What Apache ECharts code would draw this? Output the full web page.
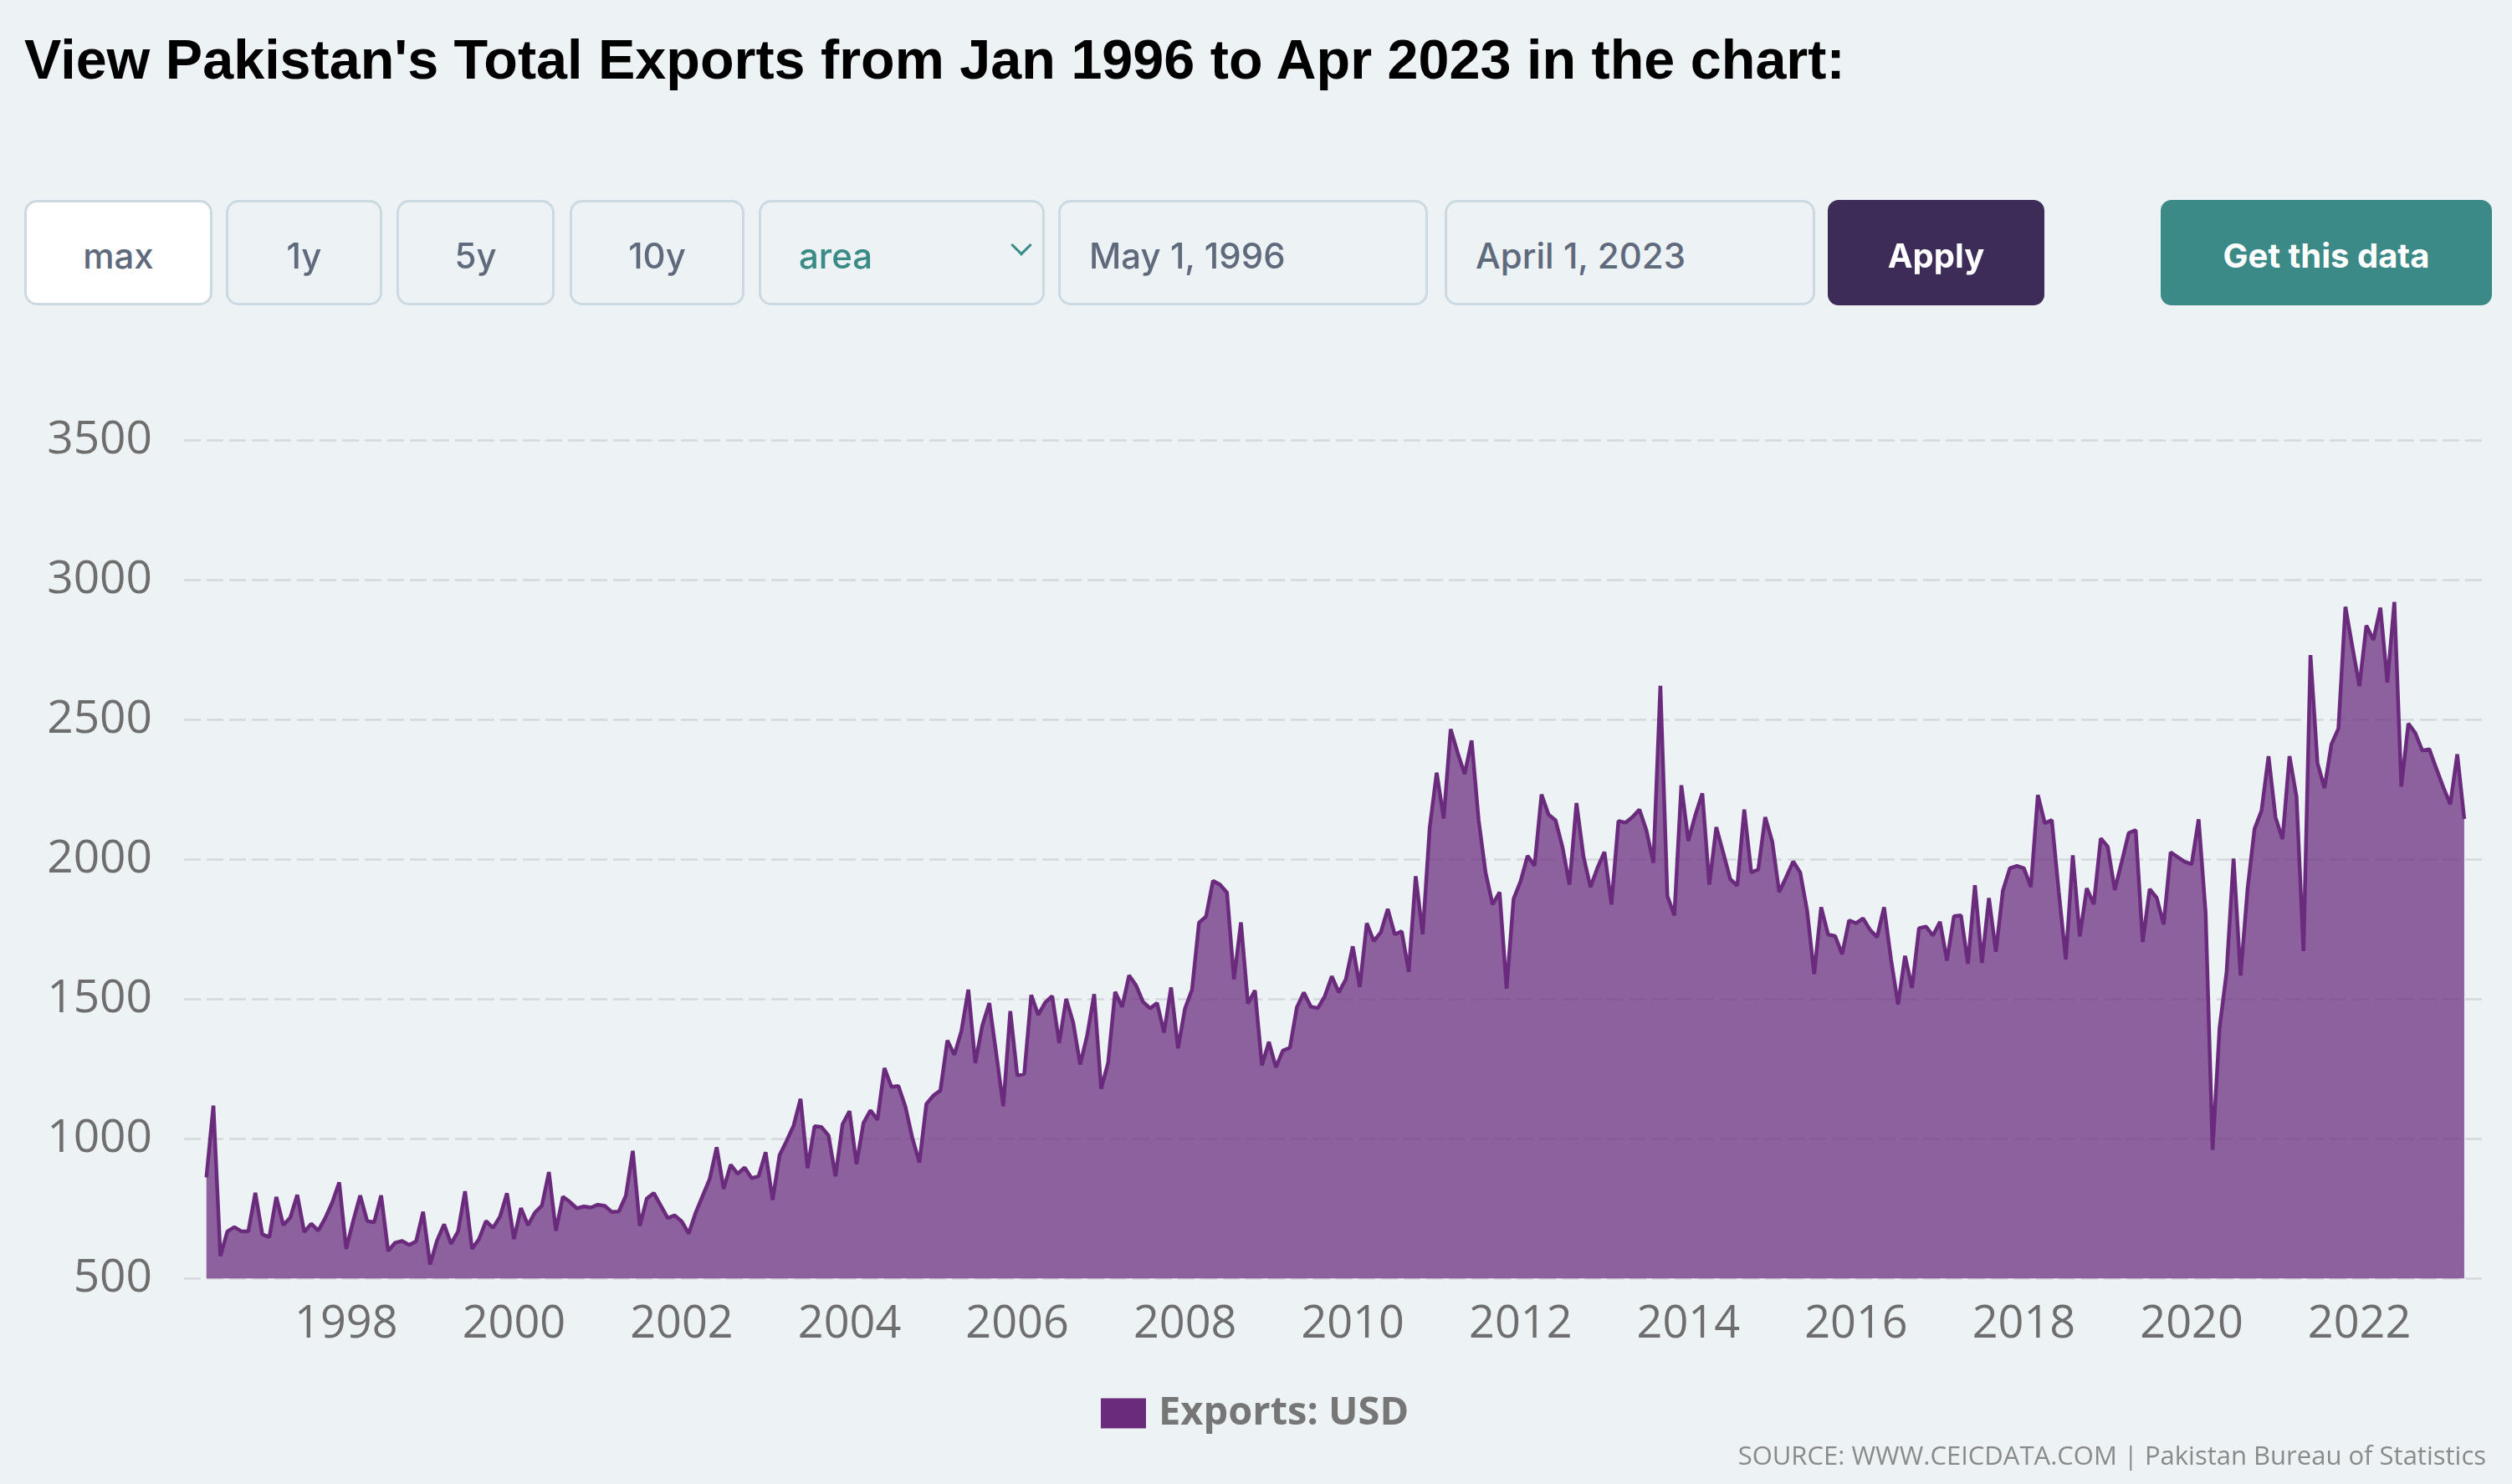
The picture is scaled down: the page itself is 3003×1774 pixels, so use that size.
<!DOCTYPE html>
<html>
<head>
<meta charset="utf-8">
<script src="https://cdn.jsdelivr.net/npm/echarts@6/dist/echarts.min.js"></script>
<style>
html,body{margin:0;padding:0;background:#edf2f5;width:3003px;height:1774px;overflow:hidden;}
#chart{position:absolute;left:0;top:0;width:3003px;height:1774px;}
#title{position:absolute;left:29px;top:38px;font:bold 66.5px/66px "Liberation Sans",Arial,sans-serif;color:#000;white-space:nowrap;}
.ctl{position:absolute;top:239px;height:126px;box-sizing:border-box;border:3px solid #cbd9e1;border-radius:15px;background:#edf2f5;font:500 42px/128px Inter,"Liberation Sans",sans-serif;color:#5f6a7d;text-align:center;white-space:nowrap;overflow:hidden;}
.left{text-align:left;}
.solid{border:none;color:#fff;font-weight:700;font-size:40px;line-height:134px;border-radius:13px;}
#chev{position:absolute;left:1212px;top:284px;width:15px;height:15px;border-right:3px solid #3a8a86;border-bottom:3px solid #3a8a86;transform:rotate(45deg);}
</style>
</head>
<body>
<div id="chart"></div>
<div id="title">View Pakistan's Total Exports from Jan 1996 to Apr 2023 in the chart:</div>
<div class="ctl" style="left:29px;width:225px;background:#fff;">max</div>
<div class="ctl" style="left:270px;width:187px;">1y</div>
<div class="ctl" style="left:474px;width:189px;">5y</div>
<div class="ctl" style="left:681px;width:209px;">10y</div>
<div class="ctl left" style="left:907px;width:342px;padding-left:45px;color:#3a8a86;">area</div>
<div id="chev"></div>
<div class="ctl left" style="left:1265px;width:442px;padding-left:34px;">May 1, 1996</div>
<div class="ctl left" style="left:1727px;width:443px;padding-left:34px;">April 1, 2023</div>
<div class="ctl solid" style="left:2185px;width:259px;background:#3d2c57;">Apply</div>
<div class="ctl solid" style="left:2583px;width:396px;background:#3b8a88;">Get this data</div>
<script>
// Monthly exports (USD mn), first value = May 1996, last value = Apr 2023
const axisStartYear = 1996;          // x axis counts months from Jan 1996
const firstMonthOffset = 4;          // May 1996 = 4 months after Jan 1996
const exportsUSD = [
  862, 1119, 580, 668, 684, 669, 669, 807,                               // 1996 May-Dec
  658, 648, 792, 691, 718, 799, 666, 696, 671, 716, 772, 844,            // 1997
  606, 706, 797, 706, 701, 797, 598, 628, 634, 620, 633, 739,            // 1998
  550, 636, 694, 624, 668, 812, 606, 641, 706, 681, 721, 805,            // 1999
  641, 752, 691, 736, 761, 881, 671, 793, 774, 751, 758, 754,            // 2000
  764, 760, 738, 740, 796, 957, 688, 786, 806, 761, 716, 726,            // 2001
  704, 661, 736, 796, 856, 970, 821, 907, 875, 897, 859, 866,            // 2002
  952, 781, 942, 992, 1047, 1143, 895, 1045, 1042, 1012, 866, 1052,      // 2003
  1099, 909, 1057, 1102, 1068, 1253, 1186, 1189, 1115, 1002, 915, 1125,  // 2004
  1155, 1173, 1352, 1301, 1385, 1534, 1271, 1406, 1486, 1304, 1117, 1457,// 2005
  1227, 1232, 1515, 1444, 1488, 1511, 1343, 1501, 1416, 1266, 1370, 1518,// 2006
  1179, 1273, 1526, 1472, 1585, 1549, 1490, 1467, 1486, 1380, 1542, 1324,// 2007
  1467, 1534, 1774, 1796, 1924, 1910, 1882, 1571, 1775, 1484, 1531, 1263,// 2008
  1347, 1256, 1316, 1326, 1471, 1524, 1473, 1468, 1511, 1582, 1524, 1571,// 2009
  1689, 1544, 1772, 1708, 1739, 1823, 1732, 1743, 1598, 1940, 1732, 2114,// 2010
  2311, 2147, 2467, 2382, 2306, 2426, 2141, 1953, 1839, 1883, 1538, 1859,// 2011
  1922, 2013, 1978, 2233, 2161, 2141, 2044, 1910, 2202, 2011, 1901, 1970,// 2012
  2027, 1839, 2138, 2132, 2152, 2179, 2105, 1988, 2622, 1870, 1800, 2266,// 2013
  2067, 2159, 2237, 1910, 2116, 2024, 1930, 1906, 2179, 1954, 1964, 2152,// 2014
  2065, 1883, 1937, 1993, 1954, 1816, 1590, 1829, 1731, 1726, 1661, 1782,// 2015
  1772, 1789, 1748, 1722, 1829, 1642, 1481, 1655, 1540, 1754, 1760, 1728,// 2016
  1777, 1638, 1797, 1800, 1627, 1908, 1630, 1862, 1670, 1889, 1969, 1977,// 2017
  1969, 1902, 2231, 2130, 2141, 1883, 1642, 2015, 1725, 1897, 1840, 2076,// 2018
  2046, 1891, 1992, 2095, 2105, 1705, 1894, 1863, 1768, 2026, 2009, 1992,// 2019
  1983, 2144, 1810, 960, 1398, 1597, 2003, 1584, 1895, 2110, 2175, 2370, // 2020
  2151, 2073, 2370, 2225, 1672, 2732, 2346, 2256, 2413, 2469, 2905, 2761,// 2021
  2621, 2838, 2786, 2902, 2634, 2922, 2261, 2487, 2453, 2390, 2395, 2326,// 2022
  2259, 2198, 2377, 2145                                                 // 2023 Jan-Apr
];
const xTickYears = [1998, 2000, 2002, 2004, 2006, 2008, 2010, 2012, 2014, 2016, 2018, 2020, 2022];
const yTicks = [500, 1000, 1500, 2000, 2500, 3000, 3500];
const seriesName = 'Exports: USD';
const sourceText = 'SOURCE: WWW.CEICDATA.COM | Pakistan Bureau of Statistics';

const data = exportsUSD.map((v, i) => [firstMonthOffset + i, v]);
const tickMonths = xTickYears.map(y => (y - axisStartYear) * 12);

const chart = echarts.init(document.getElementById('chart'), null, {renderer: 'canvas', width: 3003, height: 1774});
const labelFont = '"Open Sans", sans-serif';
chart.setOption({
  animation: false,
  backgroundColor: 'transparent',
  grid: {left: 220, right: 32, top: 526.7, bottom: 245.7, containLabel: false},
  xAxis: {
    type: 'value',
    min: 0.8, max: 330,
    axisLine: {show: false},
    axisTick: {show: false},
    splitLine: {show: false},
    axisLabel: {
      customValues: tickMonths,
      formatter: v => String(axisStartYear + Math.round(v) / 12),
      fontSize: 54, color: '#6e6e6e', fontFamily: labelFont, margin: 28
    }
  },
  yAxis: {
    type: 'value',
    min: yTicks[0], max: yTicks[yTicks.length - 1], interval: 500,
    axisLine: {show: false},
    axisTick: {show: false},
    axisLabel: {fontSize: 55, color: '#6e6e6e', fontFamily: labelFont, margin: 38, formatter: v => String(v)},
    splitLine: {show: true, lineStyle: {color: '#d5d9dd', width: 2.5, type: [20, 7]}}
  },
  legend: {
    data: [seriesName], left: 1311, top: 1661, icon: 'rect',
    itemWidth: 54, itemHeight: 36,
    textStyle: {fontSize: 47, fontWeight: 'bold', color: '#767676', fontFamily: labelFont, padding: [0, 0, 0, 10]}
  },
  graphic: [{
    type: 'text', x: 2972, y: 1742,
    style: {text: sourceText, fontSize: 31, fontFamily: labelFont, fill: '#8a8a8a', align: 'right', verticalAlign: 'middle'}
  }],
  series: [{
    name: seriesName, type: 'line', data: data,
    showSymbol: false, symbol: 'none',
    lineStyle: {width: 4.5, color: '#6a2b7d'},
    itemStyle: {color: '#6a2b7d'},
    areaStyle: {color: 'rgba(106,43,125,0.73)', opacity: 1}
  }]
});
</script>
</body>
</html>
